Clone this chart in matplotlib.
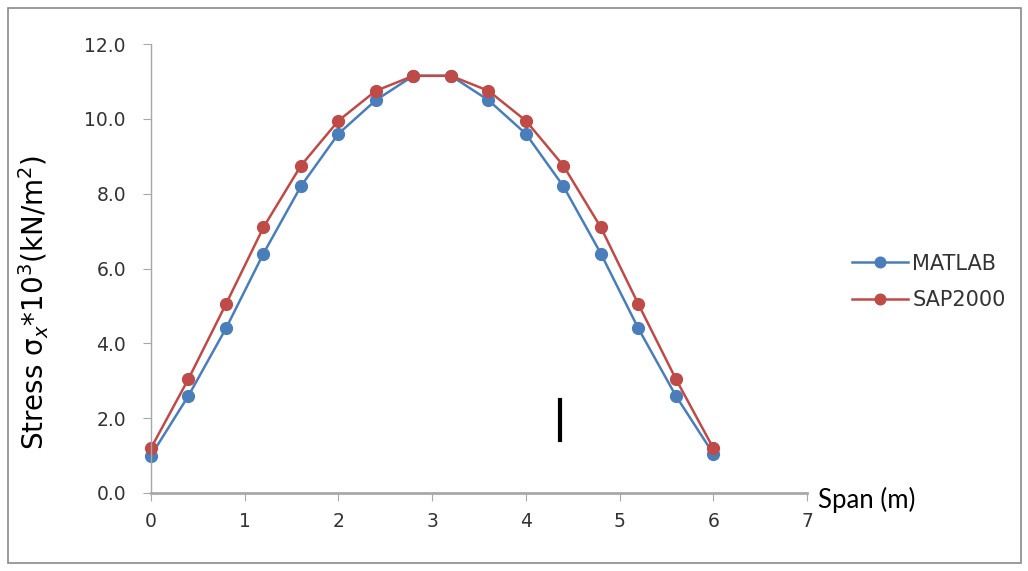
import matplotlib
matplotlib.use("Agg")
import matplotlib.pyplot as plt
from matplotlib.patches import Rectangle
from matplotlib.lines import Line2D

span = [0.0, 0.4, 0.8, 1.2, 1.6, 2.0, 2.4, 2.8, 3.2, 3.6, 4.0, 4.4, 4.8, 5.2, 5.6, 6.0]
matlab = [1.0, 2.6, 4.4, 6.4, 8.2, 9.6, 10.5, 11.15, 11.15, 10.5, 9.6, 8.2, 6.4, 4.4, 2.6, 1.05]
sap2000 = [1.2, 3.05, 5.05, 7.1, 8.75, 9.95, 10.75, 11.15, 11.15, 10.75, 9.95, 8.75, 7.1, 5.05, 3.05, 1.2]
yticks = [0.0, 2.0, 4.0, 6.0, 8.0, 10.0, 12.0]
xticks = [0, 1, 2, 3, 4, 5, 6, 7]

fig = plt.figure(figsize=(10.28, 5.71), dpi=100)
ax = fig.add_axes([151/1028, 1-493/571, 656/1028, 449/571])

blue = "#4A7EBB"
red = "#BE4B48"
ax.plot(span, matlab, color=blue, lw=1.8, marker="o", ms=8.5, label="MATLAB")
ax.plot(span, sap2000, color=red, lw=1.8, marker="o", ms=8.5, label="SAP2000")

ax.set_xlim(0, 7)
ax.set_ylim(0, 12)
ax.set_xticks(xticks)
ax.set_yticks(yticks)
ax.set_yticklabels([f"{v:.1f}" for v in yticks])
for s in ["top", "right"]:
    ax.spines[s].set_visible(False)
for s in ["left", "bottom"]:
    ax.spines[s].set_color("#A8A8A8")
ax.spines["bottom"].set_linewidth(2.0)
ax.spines["left"].set_linewidth(1.0)
ax.tick_params(axis="both", direction="out", length=6, color="#A8A8A8",
               labelsize=13.5, labelcolor="#333333")
ax.tick_params(axis="y", pad=12)
ax.tick_params(axis="x", pad=8)
for ln in ax.lines:
    ln.set_clip_on(False)

ax.set_ylabel("Stress σ$_x$*10$^3$(kN/m$^2$)", fontsize=20)
ax.yaxis.set_label_coords(-0.152, 0.425)
fig.text(818/1028, 1-500/571, "Span (m)", fontsize=18.5, family="Lato", va="center", ha="left")

leg = ax.legend(loc="center left", bbox_to_anchor=(852/1028, 1-282/571),
                bbox_transform=fig.transFigure, frameon=False, fontsize=15,
                handlelength=2.7, labelspacing=0.8, handletextpad=0.2, markerscale=0.9,
                borderpad=0, borderaxespad=0)
for t in leg.get_texts():
    t.set_color("#333333")

fig.add_artist(Rectangle((8/1028, 1-563/571), 1013/1028, 555/571,
                         transform=fig.transFigure, fill=False, ec="#8A8A8A", lw=1.2))
fig.add_artist(Line2D([560/1028, 560/1028], [1-400/571, 1-440/571],
                      transform=fig.transFigure, color="black", lw=3))

fig.savefig("out.png", dpi=100)
